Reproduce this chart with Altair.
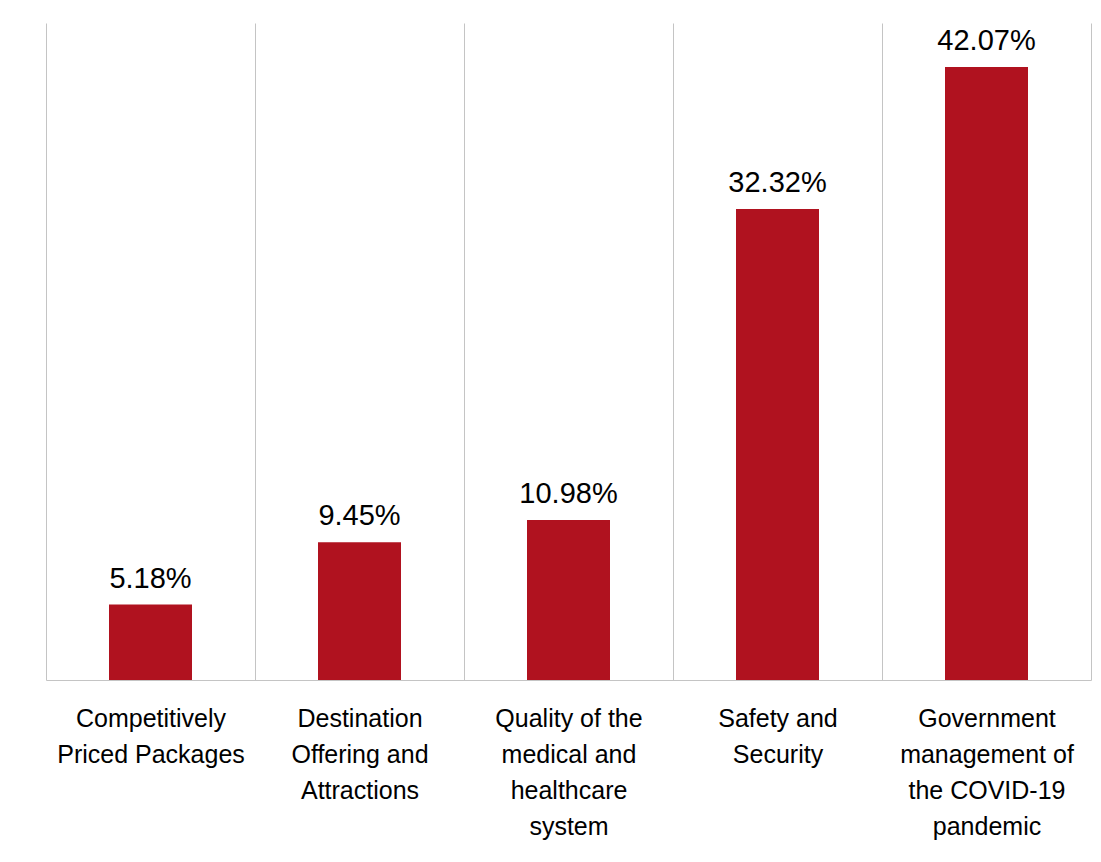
import altair as alt
import pandas as pd

categories = [
    "Competitively|Priced Packages",
    "Destination|Offering and|Attractions",
    "Quality of the|medical and|healthcare|system",
    "Safety and|Security",
    "Government|management of|the COVID-19|pandemic",
]
values = [5.18, 9.45, 10.98, 32.32, 42.07]
value_labels = ["5.18%", "9.45%", "10.98%", "32.32%", "42.07%"]

df = pd.DataFrame({"cat": categories, "val": values, "lbl": value_labels})

FONT = "Liberation Sans"
BAR = "#B0121F"
GRID = "#C4C4C4"

x = alt.X(
    "cat:N",
    sort=categories,
    title=None,
    scale=alt.Scale(paddingInner=0, paddingOuter=0),
    axis=alt.Axis(
        labelAngle=0,
        labelExpr="split(datum.label, '|')",
        labelFont=FONT,
        labelFontSize=25,
        labelColor="#000000",
        labelLineHeight=36,
        labelPadding=26,
        labelBaseline="top",
        ticks=False,
        domain=True,
        domainColor=GRID,
        domainWidth=1,
        grid=True,
        gridColor=GRID,
        gridWidth=1,
        tickBand="extent",
        labelLimit=300,
    ),
)
y = alt.Y("val:Q", scale=alt.Scale(domain=[0, 45.09], nice=False, zero=True), axis=None)

bars = alt.Chart(df).mark_bar(color=BAR, size=83).encode(x=x, y=y)
texts = alt.Chart(df).mark_text(
    font=FONT, fontSize=29, baseline="bottom", dy=-11, color="#000000"
).encode(x=alt.X("cat:N", sort=categories), y=y, text="lbl:N")

chart = (
    alt.layer(bars, texts)
    .properties(
        width=1045,
        height=657,
        autosize=alt.AutoSizeParams(type="none"),
        padding={"left": 38, "top": 15, "right": 2, "bottom": 170},
        background="#FFFFFF",
    )
    .configure_view(strokeWidth=0, stroke=None)
)

chart.save("out.html", embed_options={"renderer": "svg", "actions": False})
